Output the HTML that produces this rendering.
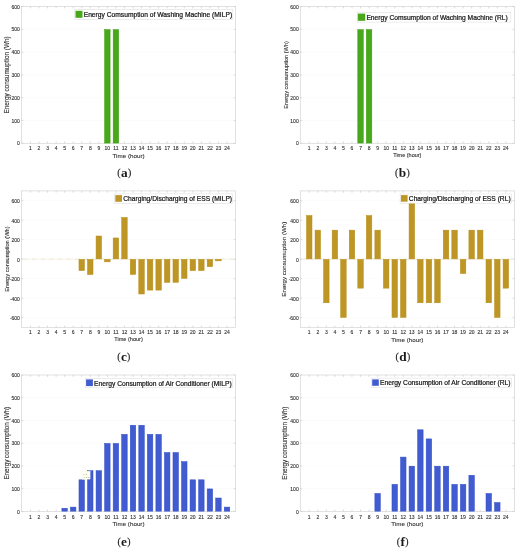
<!DOCTYPE html>
<html><head><meta charset="utf-8"><title>Figure</title>
<style>html,body{margin:0;padding:0;background:#fff}svg{display:block}</style></head>
<body>
<svg width="517" height="550" viewBox="0 0 517 550" font-family="'Liberation Sans', Arial, Helvetica, sans-serif">
<rect width="517" height="550" fill="#fff"/>
<line x1="21.5" x2="235.55" y1="120.52" y2="120.52" stroke="#f8f8f8" stroke-width="0.6"/>
<line x1="21.5" x2="235.55" y1="97.73" y2="97.73" stroke="#f8f8f8" stroke-width="0.6"/>
<line x1="21.5" x2="235.55" y1="74.95" y2="74.95" stroke="#f8f8f8" stroke-width="0.6"/>
<line x1="21.5" x2="235.55" y1="52.17" y2="52.17" stroke="#f8f8f8" stroke-width="0.6"/>
<line x1="21.5" x2="235.55" y1="29.38" y2="29.38" stroke="#f8f8f8" stroke-width="0.6"/>
<rect x="21.5" y="6.6" width="214.05" height="136.7" fill="none" stroke="#d4d4d4" stroke-width="0.7"/>
<path d="M30.45 143.3v-1.8M30.45 6.6v1.8M38.99 143.3v-1.8M38.99 6.6v1.8M47.54 143.3v-1.8M47.54 6.6v1.8M56.08 143.3v-1.8M56.08 6.6v1.8M64.63 143.3v-1.8M64.63 6.6v1.8M73.18 143.3v-1.8M73.18 6.6v1.8M81.72 143.3v-1.8M81.72 6.6v1.8M90.27 143.3v-1.8M90.27 6.6v1.8M98.81 143.3v-1.8M98.81 6.6v1.8M107.36 143.3v-1.8M107.36 6.6v1.8M115.91 143.3v-1.8M115.91 6.6v1.8M124.45 143.3v-1.8M124.45 6.6v1.8M133 143.3v-1.8M133 6.6v1.8M141.54 143.3v-1.8M141.54 6.6v1.8M150.09 143.3v-1.8M150.09 6.6v1.8M158.64 143.3v-1.8M158.64 6.6v1.8M167.18 143.3v-1.8M167.18 6.6v1.8M175.73 143.3v-1.8M175.73 6.6v1.8M184.27 143.3v-1.8M184.27 6.6v1.8M192.82 143.3v-1.8M192.82 6.6v1.8M201.37 143.3v-1.8M201.37 6.6v1.8M209.91 143.3v-1.8M209.91 6.6v1.8M218.46 143.3v-1.8M218.46 6.6v1.8M227 143.3v-1.8M227 6.6v1.8M21.5 143.3h1.8M235.55 143.3h-1.8M21.5 120.52h1.8M235.55 120.52h-1.8M21.5 97.73h1.8M235.55 97.73h-1.8M21.5 74.95h1.8M235.55 74.95h-1.8M21.5 52.17h1.8M235.55 52.17h-1.8M21.5 29.38h1.8M235.55 29.38h-1.8M21.5 6.6h1.8M235.55 6.6h-1.8" stroke="#c6c6c6" stroke-width="0.65" fill="none"/>
<rect x="104.61" y="29.63" width="5.49" height="113.42" fill="#48A71B" stroke="#33A005" stroke-width="0.5"/>
<rect x="113.16" y="29.63" width="5.49" height="113.42" fill="#48A71B" stroke="#33A005" stroke-width="0.5"/>
<g font-size="5" fill="#333" stroke="#333" stroke-width="0.12" text-anchor="middle">
<text x="30.45" y="149.9">1</text>
<text x="38.99" y="149.9">2</text>
<text x="47.54" y="149.9">3</text>
<text x="56.08" y="149.9">4</text>
<text x="64.63" y="149.9">5</text>
<text x="73.18" y="149.9">6</text>
<text x="81.72" y="149.9">7</text>
<text x="90.27" y="149.9">8</text>
<text x="98.81" y="149.9">9</text>
<text x="107.36" y="149.9">10</text>
<text x="115.91" y="149.9">11</text>
<text x="124.45" y="149.9">12</text>
<text x="133" y="149.9">13</text>
<text x="141.54" y="149.9">14</text>
<text x="150.09" y="149.9">15</text>
<text x="158.64" y="149.9">16</text>
<text x="167.18" y="149.9">17</text>
<text x="175.73" y="149.9">18</text>
<text x="184.27" y="149.9">19</text>
<text x="192.82" y="149.9">20</text>
<text x="201.37" y="149.9">21</text>
<text x="209.91" y="149.9">22</text>
<text x="218.46" y="149.9">23</text>
<text x="227" y="149.9">24</text>
</g>
<g font-size="5" fill="#333" stroke="#333" stroke-width="0.12" text-anchor="end">
<text x="19.9" y="145.4">0</text>
<text x="19.9" y="122.62">100</text>
<text x="19.9" y="99.83">200</text>
<text x="19.9" y="77.05">300</text>
<text x="19.9" y="54.27">400</text>
<text x="19.9" y="31.48">500</text>
<text x="19.9" y="8.7">600</text>
</g>
<text x="128.53" y="158.1" font-size="6.25" fill="#333" stroke="#333" stroke-width="0.12" text-anchor="middle">Time (hour)</text>
<text transform="translate(9.2 74.95) rotate(-90)" font-size="6.39" fill="#333" stroke="#333" stroke-width="0.12" text-anchor="middle">Energy consumuption (Wh)</text>
<rect x="74.8" y="9.7" width="158" height="9.7" fill="#fff" stroke="#dadada" stroke-width="0.5"/>
<rect x="75.5" y="10.8" width="7" height="7" fill="#48A71B"/>
<text x="83.7" y="16.95" font-size="6.7" fill="#111" stroke="#111" stroke-width="0.2">Energy Comsumption of Washing Machine (MILP)</text>
<text x="124.3" y="176.9" font-family="'Liberation Serif', 'Times New Roman', serif" font-size="9.8" fill="#1a1a1a" stroke="#1a1a1a" stroke-width="0.15" text-anchor="middle"><tspan dy="-0.9">(</tspan><tspan font-weight="bold" font-size="13.3" dy="0.9" dx="0.4" stroke-width="0">a</tspan><tspan dy="-0.9" dx="0.3">)</tspan></text>
<line x1="300.3" x2="514.4" y1="120.52" y2="120.52" stroke="#f8f8f8" stroke-width="0.6"/>
<line x1="300.3" x2="514.4" y1="97.73" y2="97.73" stroke="#f8f8f8" stroke-width="0.6"/>
<line x1="300.3" x2="514.4" y1="74.95" y2="74.95" stroke="#f8f8f8" stroke-width="0.6"/>
<line x1="300.3" x2="514.4" y1="52.17" y2="52.17" stroke="#f8f8f8" stroke-width="0.6"/>
<line x1="300.3" x2="514.4" y1="29.38" y2="29.38" stroke="#f8f8f8" stroke-width="0.6"/>
<rect x="300.3" y="6.6" width="214.1" height="136.7" fill="none" stroke="#d4d4d4" stroke-width="0.7"/>
<path d="M309.25 143.3v-1.8M309.25 6.6v1.8M317.8 143.3v-1.8M317.8 6.6v1.8M326.34 143.3v-1.8M326.34 6.6v1.8M334.89 143.3v-1.8M334.89 6.6v1.8M343.44 143.3v-1.8M343.44 6.6v1.8M351.99 143.3v-1.8M351.99 6.6v1.8M360.54 143.3v-1.8M360.54 6.6v1.8M369.08 143.3v-1.8M369.08 6.6v1.8M377.63 143.3v-1.8M377.63 6.6v1.8M386.18 143.3v-1.8M386.18 6.6v1.8M394.73 143.3v-1.8M394.73 6.6v1.8M403.28 143.3v-1.8M403.28 6.6v1.8M411.82 143.3v-1.8M411.82 6.6v1.8M420.37 143.3v-1.8M420.37 6.6v1.8M428.92 143.3v-1.8M428.92 6.6v1.8M437.47 143.3v-1.8M437.47 6.6v1.8M446.02 143.3v-1.8M446.02 6.6v1.8M454.56 143.3v-1.8M454.56 6.6v1.8M463.11 143.3v-1.8M463.11 6.6v1.8M471.66 143.3v-1.8M471.66 6.6v1.8M480.21 143.3v-1.8M480.21 6.6v1.8M488.76 143.3v-1.8M488.76 6.6v1.8M497.3 143.3v-1.8M497.3 6.6v1.8M505.85 143.3v-1.8M505.85 6.6v1.8M300.3 143.3h1.8M514.4 143.3h-1.8M300.3 120.52h1.8M514.4 120.52h-1.8M300.3 97.73h1.8M514.4 97.73h-1.8M300.3 74.95h1.8M514.4 74.95h-1.8M300.3 52.17h1.8M514.4 52.17h-1.8M300.3 29.38h1.8M514.4 29.38h-1.8M300.3 6.6h1.8M514.4 6.6h-1.8" stroke="#c6c6c6" stroke-width="0.65" fill="none"/>
<rect x="357.79" y="29.63" width="5.49" height="113.42" fill="#48A71B" stroke="#33A005" stroke-width="0.5"/>
<rect x="366.34" y="29.63" width="5.49" height="113.42" fill="#48A71B" stroke="#33A005" stroke-width="0.5"/>
<g font-size="5" fill="#333" stroke="#333" stroke-width="0.12" text-anchor="middle">
<text x="309.25" y="150">1</text>
<text x="317.8" y="150">2</text>
<text x="326.34" y="150">3</text>
<text x="334.89" y="150">4</text>
<text x="343.44" y="150">5</text>
<text x="351.99" y="150">6</text>
<text x="360.54" y="150">7</text>
<text x="369.08" y="150">8</text>
<text x="377.63" y="150">9</text>
<text x="386.18" y="150">10</text>
<text x="394.73" y="150">11</text>
<text x="403.28" y="150">12</text>
<text x="411.82" y="150">13</text>
<text x="420.37" y="150">14</text>
<text x="428.92" y="150">15</text>
<text x="437.47" y="150">16</text>
<text x="446.02" y="150">17</text>
<text x="454.56" y="150">18</text>
<text x="463.11" y="150">19</text>
<text x="471.66" y="150">20</text>
<text x="480.21" y="150">21</text>
<text x="488.76" y="150">22</text>
<text x="497.3" y="150">23</text>
<text x="505.85" y="150">24</text>
</g>
<g font-size="5" fill="#333" stroke="#333" stroke-width="0.12" text-anchor="end">
<text x="298.7" y="145.4">0</text>
<text x="298.7" y="122.62">100</text>
<text x="298.7" y="99.83">200</text>
<text x="298.7" y="77.05">300</text>
<text x="298.7" y="54.27">400</text>
<text x="298.7" y="31.48">500</text>
<text x="298.7" y="8.7">600</text>
</g>
<text x="407.35" y="157.2" font-size="5.5" fill="#333" stroke="#333" stroke-width="0.12" text-anchor="middle">Time (hour)</text>
<text transform="translate(288.4 74.95) rotate(-90)" font-size="5.58" fill="#333" stroke="#333" stroke-width="0.12" text-anchor="middle">Energy consumuption (Wh)</text>
<rect x="357.2" y="12.4" width="153.6" height="9.7" fill="#fff" stroke="#dadada" stroke-width="0.5"/>
<rect x="357.8" y="13.6" width="7.4" height="7.2" fill="#48A71B"/>
<text x="366.4" y="19.65" font-size="6.7" fill="#111" stroke="#111" stroke-width="0.2">Energy Comsumption of Waching Machine (RL)</text>
<text x="402.4" y="176.9" font-family="'Liberation Serif', 'Times New Roman', serif" font-size="9.8" fill="#1a1a1a" stroke="#1a1a1a" stroke-width="0.15" text-anchor="middle"><tspan dy="-0.9">(</tspan><tspan font-weight="bold" font-size="13.3" dy="0.9" dx="0.4" stroke-width="0">b</tspan><tspan dy="-0.9" dx="0.3">)</tspan></text>
<line x1="21.5" x2="235.55" y1="317.65" y2="317.65" stroke="#f8f8f8" stroke-width="0.6"/>
<line x1="21.5" x2="235.55" y1="298.15" y2="298.15" stroke="#f8f8f8" stroke-width="0.6"/>
<line x1="21.5" x2="235.55" y1="278.65" y2="278.65" stroke="#f8f8f8" stroke-width="0.6"/>
<line x1="21.5" x2="235.55" y1="259.15" y2="259.15" stroke="#f8f8f8" stroke-width="0.6"/>
<line x1="21.5" x2="235.55" y1="239.65" y2="239.65" stroke="#f8f8f8" stroke-width="0.6"/>
<line x1="21.5" x2="235.55" y1="220.15" y2="220.15" stroke="#f8f8f8" stroke-width="0.6"/>
<line x1="21.5" x2="235.55" y1="200.65" y2="200.65" stroke="#f8f8f8" stroke-width="0.6"/>
<line x1="21.5" x2="235.55" y1="259.15" y2="259.15" stroke="#f8efd6" stroke-width="0.8"/>
<line x1="23.78" x2="235.55" y1="259.15" y2="259.15" stroke="#e3e3e3" stroke-width="0.8" stroke-dasharray="4 4.56"/>
<rect x="21.5" y="190.9" width="214.05" height="136.5" fill="none" stroke="#d4d4d4" stroke-width="0.7"/>
<path d="M30.45 327.4v-1.8M30.45 190.9v1.8M38.99 327.4v-1.8M38.99 190.9v1.8M47.54 327.4v-1.8M47.54 190.9v1.8M56.08 327.4v-1.8M56.08 190.9v1.8M64.63 327.4v-1.8M64.63 190.9v1.8M73.18 327.4v-1.8M73.18 190.9v1.8M81.72 327.4v-1.8M81.72 190.9v1.8M90.27 327.4v-1.8M90.27 190.9v1.8M98.81 327.4v-1.8M98.81 190.9v1.8M107.36 327.4v-1.8M107.36 190.9v1.8M115.91 327.4v-1.8M115.91 190.9v1.8M124.45 327.4v-1.8M124.45 190.9v1.8M133 327.4v-1.8M133 190.9v1.8M141.54 327.4v-1.8M141.54 190.9v1.8M150.09 327.4v-1.8M150.09 190.9v1.8M158.64 327.4v-1.8M158.64 190.9v1.8M167.18 327.4v-1.8M167.18 190.9v1.8M175.73 327.4v-1.8M175.73 190.9v1.8M184.27 327.4v-1.8M184.27 190.9v1.8M192.82 327.4v-1.8M192.82 190.9v1.8M201.37 327.4v-1.8M201.37 190.9v1.8M209.91 327.4v-1.8M209.91 190.9v1.8M218.46 327.4v-1.8M218.46 190.9v1.8M227 327.4v-1.8M227 190.9v1.8M21.5 317.65h1.8M235.55 317.65h-1.8M21.5 298.15h1.8M235.55 298.15h-1.8M21.5 278.65h1.8M235.55 278.65h-1.8M21.5 259.15h1.8M235.55 259.15h-1.8M21.5 239.65h1.8M235.55 239.65h-1.8M21.5 220.15h1.8M235.55 220.15h-1.8M21.5 200.65h1.8M235.55 200.65h-1.8" stroke="#c6c6c6" stroke-width="0.65" fill="none"/>
<rect x="78.98" y="259.4" width="5.49" height="11.2" fill="#BD9626" stroke="#B78C12" stroke-width="0.5"/>
<rect x="87.52" y="259.4" width="5.49" height="15.1" fill="#BD9626" stroke="#B78C12" stroke-width="0.5"/>
<rect x="96.07" y="236" width="5.49" height="22.9" fill="#BD9626" stroke="#B78C12" stroke-width="0.5"/>
<rect x="104.61" y="259.4" width="5.49" height="2.43" fill="#BD9626" stroke="#B78C12" stroke-width="0.5"/>
<rect x="113.16" y="237.95" width="5.49" height="20.95" fill="#BD9626" stroke="#B78C12" stroke-width="0.5"/>
<rect x="121.71" y="217.47" width="5.49" height="41.42" fill="#BD9626" stroke="#B78C12" stroke-width="0.5"/>
<rect x="130.25" y="259.4" width="5.49" height="15.1" fill="#BD9626" stroke="#B78C12" stroke-width="0.5"/>
<rect x="138.8" y="259.4" width="5.49" height="34.6" fill="#BD9626" stroke="#B78C12" stroke-width="0.5"/>
<rect x="147.34" y="259.4" width="5.49" height="30.7" fill="#BD9626" stroke="#B78C12" stroke-width="0.5"/>
<rect x="155.89" y="259.4" width="5.49" height="30.7" fill="#BD9626" stroke="#B78C12" stroke-width="0.5"/>
<rect x="164.44" y="259.4" width="5.49" height="22.9" fill="#BD9626" stroke="#B78C12" stroke-width="0.5"/>
<rect x="172.98" y="259.4" width="5.49" height="22.9" fill="#BD9626" stroke="#B78C12" stroke-width="0.5"/>
<rect x="181.53" y="259.4" width="5.49" height="19" fill="#BD9626" stroke="#B78C12" stroke-width="0.5"/>
<rect x="190.07" y="259.4" width="5.49" height="11.2" fill="#BD9626" stroke="#B78C12" stroke-width="0.5"/>
<rect x="198.62" y="259.4" width="5.49" height="11.2" fill="#BD9626" stroke="#B78C12" stroke-width="0.5"/>
<rect x="207.17" y="259.4" width="5.49" height="7.3" fill="#BD9626" stroke="#B78C12" stroke-width="0.5"/>
<rect x="215.71" y="259.4" width="5.49" height="1.45" fill="#BD9626" stroke="#B78C12" stroke-width="0.5"/>
<g font-size="5" fill="#333" stroke="#333" stroke-width="0.12" text-anchor="middle">
<text x="30.45" y="334">1</text>
<text x="38.99" y="334">2</text>
<text x="47.54" y="334">3</text>
<text x="56.08" y="334">4</text>
<text x="64.63" y="334">5</text>
<text x="73.18" y="334">6</text>
<text x="81.72" y="334">7</text>
<text x="90.27" y="334">8</text>
<text x="98.81" y="334">9</text>
<text x="107.36" y="334">10</text>
<text x="115.91" y="334">11</text>
<text x="124.45" y="334">12</text>
<text x="133" y="334">13</text>
<text x="141.54" y="334">14</text>
<text x="150.09" y="334">15</text>
<text x="158.64" y="334">16</text>
<text x="167.18" y="334">17</text>
<text x="175.73" y="334">18</text>
<text x="184.27" y="334">19</text>
<text x="192.82" y="334">20</text>
<text x="201.37" y="334">21</text>
<text x="209.91" y="334">22</text>
<text x="218.46" y="334">23</text>
<text x="227" y="334">24</text>
</g>
<g font-size="5" fill="#333" stroke="#333" stroke-width="0.12" text-anchor="end">
<text x="19.9" y="320.35">-600</text>
<text x="19.9" y="300.85">-400</text>
<text x="19.9" y="281.35">-200</text>
<text x="19.9" y="261.85">0</text>
<text x="19.9" y="242.35">200</text>
<text x="19.9" y="222.85">400</text>
<text x="19.9" y="203.35">600</text>
</g>
<text x="128.53" y="341.2" font-size="5.58" fill="#333" stroke="#333" stroke-width="0.12" text-anchor="middle">Time (hour)</text>
<text transform="translate(8.8 259.15) rotate(-90)" font-size="5.66" fill="#333" stroke="#333" stroke-width="0.12" text-anchor="middle">Energy consumption (Wh)</text>
<rect x="114.6" y="193.9" width="118.1" height="9.4" fill="#fff" stroke="#dadada" stroke-width="0.5"/>
<rect x="115.3" y="195.1" width="6.7" height="6.7" fill="#BD9626"/>
<text x="123.2" y="201" font-size="6.7" fill="#111" stroke="#111" stroke-width="0.2">Charging/Discharging of ESS (MILP)</text>
<text x="123.8" y="361" font-family="'Liberation Serif', 'Times New Roman', serif" font-size="9.8" fill="#1a1a1a" stroke="#1a1a1a" stroke-width="0.15" text-anchor="middle"><tspan dy="-0.9">(</tspan><tspan font-weight="bold" font-size="13.3" dy="0.9" dx="0.4" stroke-width="0">c</tspan><tspan dy="-0.9" dx="0.3">)</tspan></text>
<line x1="300.3" x2="514.4" y1="317.65" y2="317.65" stroke="#f8f8f8" stroke-width="0.6"/>
<line x1="300.3" x2="514.4" y1="298.15" y2="298.15" stroke="#f8f8f8" stroke-width="0.6"/>
<line x1="300.3" x2="514.4" y1="278.65" y2="278.65" stroke="#f8f8f8" stroke-width="0.6"/>
<line x1="300.3" x2="514.4" y1="259.15" y2="259.15" stroke="#f8f8f8" stroke-width="0.6"/>
<line x1="300.3" x2="514.4" y1="239.65" y2="239.65" stroke="#f8f8f8" stroke-width="0.6"/>
<line x1="300.3" x2="514.4" y1="220.15" y2="220.15" stroke="#f8f8f8" stroke-width="0.6"/>
<line x1="300.3" x2="514.4" y1="200.65" y2="200.65" stroke="#f8f8f8" stroke-width="0.6"/>
<line x1="300.3" x2="514.4" y1="259.15" y2="259.15" stroke="#f8efd6" stroke-width="0.8"/>
<line x1="302.58" x2="514.4" y1="259.15" y2="259.15" stroke="#e3e3e3" stroke-width="0.8" stroke-dasharray="4 4.56"/>
<rect x="300.3" y="190.9" width="214.1" height="136.5" fill="none" stroke="#d4d4d4" stroke-width="0.7"/>
<path d="M309.25 327.4v-1.8M309.25 190.9v1.8M317.8 327.4v-1.8M317.8 190.9v1.8M326.34 327.4v-1.8M326.34 190.9v1.8M334.89 327.4v-1.8M334.89 190.9v1.8M343.44 327.4v-1.8M343.44 190.9v1.8M351.99 327.4v-1.8M351.99 190.9v1.8M360.54 327.4v-1.8M360.54 190.9v1.8M369.08 327.4v-1.8M369.08 190.9v1.8M377.63 327.4v-1.8M377.63 190.9v1.8M386.18 327.4v-1.8M386.18 190.9v1.8M394.73 327.4v-1.8M394.73 190.9v1.8M403.28 327.4v-1.8M403.28 190.9v1.8M411.82 327.4v-1.8M411.82 190.9v1.8M420.37 327.4v-1.8M420.37 190.9v1.8M428.92 327.4v-1.8M428.92 190.9v1.8M437.47 327.4v-1.8M437.47 190.9v1.8M446.02 327.4v-1.8M446.02 190.9v1.8M454.56 327.4v-1.8M454.56 190.9v1.8M463.11 327.4v-1.8M463.11 190.9v1.8M471.66 327.4v-1.8M471.66 190.9v1.8M480.21 327.4v-1.8M480.21 190.9v1.8M488.76 327.4v-1.8M488.76 190.9v1.8M497.3 327.4v-1.8M497.3 190.9v1.8M505.85 327.4v-1.8M505.85 190.9v1.8M300.3 317.65h1.8M514.4 317.65h-1.8M300.3 298.15h1.8M514.4 298.15h-1.8M300.3 278.65h1.8M514.4 278.65h-1.8M300.3 259.15h1.8M514.4 259.15h-1.8M300.3 239.65h1.8M514.4 239.65h-1.8M300.3 220.15h1.8M514.4 220.15h-1.8M300.3 200.65h1.8M514.4 200.65h-1.8" stroke="#c6c6c6" stroke-width="0.65" fill="none"/>
<rect x="306.5" y="215.53" width="5.49" height="43.37" fill="#BD9626" stroke="#B78C12" stroke-width="0.5"/>
<rect x="315.05" y="230.15" width="5.49" height="28.75" fill="#BD9626" stroke="#B78C12" stroke-width="0.5"/>
<rect x="323.6" y="259.4" width="5.49" height="43.38" fill="#BD9626" stroke="#B78C12" stroke-width="0.5"/>
<rect x="332.14" y="230.15" width="5.49" height="28.75" fill="#BD9626" stroke="#B78C12" stroke-width="0.5"/>
<rect x="340.69" y="259.4" width="5.49" height="58" fill="#BD9626" stroke="#B78C12" stroke-width="0.5"/>
<rect x="349.24" y="230.15" width="5.49" height="28.75" fill="#BD9626" stroke="#B78C12" stroke-width="0.5"/>
<rect x="357.79" y="259.4" width="5.49" height="28.75" fill="#BD9626" stroke="#B78C12" stroke-width="0.5"/>
<rect x="366.34" y="215.53" width="5.49" height="43.37" fill="#BD9626" stroke="#B78C12" stroke-width="0.5"/>
<rect x="374.88" y="230.15" width="5.49" height="28.75" fill="#BD9626" stroke="#B78C12" stroke-width="0.5"/>
<rect x="383.43" y="259.4" width="5.49" height="28.75" fill="#BD9626" stroke="#B78C12" stroke-width="0.5"/>
<rect x="391.98" y="259.4" width="5.49" height="58" fill="#BD9626" stroke="#B78C12" stroke-width="0.5"/>
<rect x="400.53" y="259.4" width="5.49" height="58" fill="#BD9626" stroke="#B78C12" stroke-width="0.5"/>
<rect x="409.08" y="200.9" width="5.49" height="58" fill="#BD9626" stroke="#B78C12" stroke-width="0.5"/>
<rect x="417.62" y="259.4" width="5.49" height="43.38" fill="#BD9626" stroke="#B78C12" stroke-width="0.5"/>
<rect x="426.17" y="259.4" width="5.49" height="43.38" fill="#BD9626" stroke="#B78C12" stroke-width="0.5"/>
<rect x="434.72" y="259.4" width="5.49" height="43.38" fill="#BD9626" stroke="#B78C12" stroke-width="0.5"/>
<rect x="443.27" y="230.15" width="5.49" height="28.75" fill="#BD9626" stroke="#B78C12" stroke-width="0.5"/>
<rect x="451.82" y="230.15" width="5.49" height="28.75" fill="#BD9626" stroke="#B78C12" stroke-width="0.5"/>
<rect x="460.36" y="259.4" width="5.49" height="14.12" fill="#BD9626" stroke="#B78C12" stroke-width="0.5"/>
<rect x="468.91" y="230.15" width="5.49" height="28.75" fill="#BD9626" stroke="#B78C12" stroke-width="0.5"/>
<rect x="477.46" y="230.15" width="5.49" height="28.75" fill="#BD9626" stroke="#B78C12" stroke-width="0.5"/>
<rect x="486.01" y="259.4" width="5.49" height="43.38" fill="#BD9626" stroke="#B78C12" stroke-width="0.5"/>
<rect x="494.56" y="259.4" width="5.49" height="58" fill="#BD9626" stroke="#B78C12" stroke-width="0.5"/>
<rect x="503.1" y="259.4" width="5.49" height="28.75" fill="#BD9626" stroke="#B78C12" stroke-width="0.5"/>
<g font-size="5" fill="#333" stroke="#333" stroke-width="0.12" text-anchor="middle">
<text x="309.25" y="334">1</text>
<text x="317.8" y="334">2</text>
<text x="326.34" y="334">3</text>
<text x="334.89" y="334">4</text>
<text x="343.44" y="334">5</text>
<text x="351.99" y="334">6</text>
<text x="360.54" y="334">7</text>
<text x="369.08" y="334">8</text>
<text x="377.63" y="334">9</text>
<text x="386.18" y="334">10</text>
<text x="394.73" y="334">11</text>
<text x="403.28" y="334">12</text>
<text x="411.82" y="334">13</text>
<text x="420.37" y="334">14</text>
<text x="428.92" y="334">15</text>
<text x="437.47" y="334">16</text>
<text x="446.02" y="334">17</text>
<text x="454.56" y="334">18</text>
<text x="463.11" y="334">19</text>
<text x="471.66" y="334">20</text>
<text x="480.21" y="334">21</text>
<text x="488.76" y="334">22</text>
<text x="497.3" y="334">23</text>
<text x="505.85" y="334">24</text>
</g>
<g font-size="5" fill="#333" stroke="#333" stroke-width="0.12" text-anchor="end">
<text x="298.7" y="320.35">-600</text>
<text x="298.7" y="300.85">-400</text>
<text x="298.7" y="281.35">-200</text>
<text x="298.7" y="261.85">0</text>
<text x="298.7" y="242.35">200</text>
<text x="298.7" y="222.85">400</text>
<text x="298.7" y="203.35">600</text>
</g>
<text x="407.35" y="341.8" font-size="6.24" fill="#333" stroke="#333" stroke-width="0.12" text-anchor="middle">Time (hour)</text>
<text transform="translate(285.6 259.15) rotate(-90)" font-size="6.2" fill="#333" stroke="#333" stroke-width="0.12" text-anchor="middle">Energy consumuption (Wh)</text>
<rect x="400.1" y="194" width="111.3" height="9.2" fill="#fff" stroke="#dadada" stroke-width="0.5"/>
<rect x="400.9" y="195.1" width="6.7" height="6.6" fill="#BD9626"/>
<text x="408.8" y="201" font-size="6.7" fill="#111" stroke="#111" stroke-width="0.2">Charging/Discharging of ESS (RL)</text>
<text x="402.9" y="361.3" font-family="'Liberation Serif', 'Times New Roman', serif" font-size="9.8" fill="#1a1a1a" stroke="#1a1a1a" stroke-width="0.15" text-anchor="middle"><tspan dy="-0.9">(</tspan><tspan font-weight="bold" font-size="13.3" dy="0.9" dx="0.4" stroke-width="0">d</tspan><tspan dy="-0.9" dx="0.3">)</tspan></text>
<line x1="21.5" x2="235.55" y1="488.67" y2="488.67" stroke="#f8f8f8" stroke-width="0.6"/>
<line x1="21.5" x2="235.55" y1="465.93" y2="465.93" stroke="#f8f8f8" stroke-width="0.6"/>
<line x1="21.5" x2="235.55" y1="443.2" y2="443.2" stroke="#f8f8f8" stroke-width="0.6"/>
<line x1="21.5" x2="235.55" y1="420.47" y2="420.47" stroke="#f8f8f8" stroke-width="0.6"/>
<line x1="21.5" x2="235.55" y1="397.73" y2="397.73" stroke="#f8f8f8" stroke-width="0.6"/>
<rect x="21.5" y="375" width="214.05" height="136.4" fill="none" stroke="#d4d4d4" stroke-width="0.7"/>
<path d="M30.45 511.4v-1.8M30.45 375v1.8M38.99 511.4v-1.8M38.99 375v1.8M47.54 511.4v-1.8M47.54 375v1.8M56.08 511.4v-1.8M56.08 375v1.8M64.63 511.4v-1.8M64.63 375v1.8M73.18 511.4v-1.8M73.18 375v1.8M81.72 511.4v-1.8M81.72 375v1.8M90.27 511.4v-1.8M90.27 375v1.8M98.81 511.4v-1.8M98.81 375v1.8M107.36 511.4v-1.8M107.36 375v1.8M115.91 511.4v-1.8M115.91 375v1.8M124.45 511.4v-1.8M124.45 375v1.8M133 511.4v-1.8M133 375v1.8M141.54 511.4v-1.8M141.54 375v1.8M150.09 511.4v-1.8M150.09 375v1.8M158.64 511.4v-1.8M158.64 375v1.8M167.18 511.4v-1.8M167.18 375v1.8M175.73 511.4v-1.8M175.73 375v1.8M184.27 511.4v-1.8M184.27 375v1.8M192.82 511.4v-1.8M192.82 375v1.8M201.37 511.4v-1.8M201.37 375v1.8M209.91 511.4v-1.8M209.91 375v1.8M218.46 511.4v-1.8M218.46 375v1.8M227 511.4v-1.8M227 375v1.8M21.5 511.4h1.8M235.55 511.4h-1.8M21.5 488.67h1.8M235.55 488.67h-1.8M21.5 465.93h1.8M235.55 465.93h-1.8M21.5 443.2h1.8M235.55 443.2h-1.8M21.5 420.47h1.8M235.55 420.47h-1.8M21.5 397.73h1.8M235.55 397.73h-1.8M21.5 375h1.8M235.55 375h-1.8" stroke="#c6c6c6" stroke-width="0.65" fill="none"/>
<rect x="61.88" y="508.24" width="5.49" height="2.91" fill="#405CD0" stroke="#2F4CC9" stroke-width="0.5"/>
<rect x="70.43" y="507.1" width="5.49" height="4.05" fill="#405CD0" stroke="#2F4CC9" stroke-width="0.5"/>
<rect x="78.98" y="479.82" width="5.49" height="31.33" fill="#405CD0" stroke="#2F4CC9" stroke-width="0.5"/>
<rect x="87.52" y="470.73" width="5.49" height="40.42" fill="#405CD0" stroke="#2F4CC9" stroke-width="0.5"/>
<rect x="96.07" y="470.73" width="5.49" height="40.42" fill="#405CD0" stroke="#2F4CC9" stroke-width="0.5"/>
<rect x="104.61" y="443.45" width="5.49" height="67.7" fill="#405CD0" stroke="#2F4CC9" stroke-width="0.5"/>
<rect x="113.16" y="443.45" width="5.49" height="67.7" fill="#405CD0" stroke="#2F4CC9" stroke-width="0.5"/>
<rect x="121.71" y="434.36" width="5.49" height="76.79" fill="#405CD0" stroke="#2F4CC9" stroke-width="0.5"/>
<rect x="130.25" y="425.26" width="5.49" height="85.89" fill="#405CD0" stroke="#2F4CC9" stroke-width="0.5"/>
<rect x="138.8" y="425.26" width="5.49" height="85.89" fill="#405CD0" stroke="#2F4CC9" stroke-width="0.5"/>
<rect x="147.34" y="434.36" width="5.49" height="76.79" fill="#405CD0" stroke="#2F4CC9" stroke-width="0.5"/>
<rect x="155.89" y="434.36" width="5.49" height="76.79" fill="#405CD0" stroke="#2F4CC9" stroke-width="0.5"/>
<rect x="164.44" y="452.54" width="5.49" height="58.61" fill="#405CD0" stroke="#2F4CC9" stroke-width="0.5"/>
<rect x="172.98" y="452.54" width="5.49" height="58.61" fill="#405CD0" stroke="#2F4CC9" stroke-width="0.5"/>
<rect x="181.53" y="461.64" width="5.49" height="49.51" fill="#405CD0" stroke="#2F4CC9" stroke-width="0.5"/>
<rect x="190.07" y="479.82" width="5.49" height="31.33" fill="#405CD0" stroke="#2F4CC9" stroke-width="0.5"/>
<rect x="198.62" y="479.82" width="5.49" height="31.33" fill="#405CD0" stroke="#2F4CC9" stroke-width="0.5"/>
<rect x="207.17" y="488.92" width="5.49" height="22.23" fill="#405CD0" stroke="#2F4CC9" stroke-width="0.5"/>
<rect x="215.71" y="498.01" width="5.49" height="13.14" fill="#405CD0" stroke="#2F4CC9" stroke-width="0.5"/>
<rect x="224.26" y="507.1" width="5.49" height="4.05" fill="#405CD0" stroke="#2F4CC9" stroke-width="0.5"/>
<rect x="82" y="471.1" width="8.3" height="8.2" fill="#fffff0" stroke="#eeeedd" stroke-width="0.3" stroke-dasharray="0.6 0.6"/><text x="83.2" y="474.6" font-size="2.3" fill="#777">X: 7</text><text x="83.2" y="477.9" font-size="2.3" fill="#777">Y: 140</text>
<g font-size="5" fill="#333" stroke="#333" stroke-width="0.12" text-anchor="middle">
<text x="30.45" y="518.6">1</text>
<text x="38.99" y="518.6">2</text>
<text x="47.54" y="518.6">3</text>
<text x="56.08" y="518.6">4</text>
<text x="64.63" y="518.6">5</text>
<text x="73.18" y="518.6">6</text>
<text x="81.72" y="518.6">7</text>
<text x="90.27" y="518.6">8</text>
<text x="98.81" y="518.6">9</text>
<text x="107.36" y="518.6">10</text>
<text x="115.91" y="518.6">11</text>
<text x="124.45" y="518.6">12</text>
<text x="133" y="518.6">13</text>
<text x="141.54" y="518.6">14</text>
<text x="150.09" y="518.6">15</text>
<text x="158.64" y="518.6">16</text>
<text x="167.18" y="518.6">17</text>
<text x="175.73" y="518.6">18</text>
<text x="184.27" y="518.6">19</text>
<text x="192.82" y="518.6">20</text>
<text x="201.37" y="518.6">21</text>
<text x="209.91" y="518.6">22</text>
<text x="218.46" y="518.6">23</text>
<text x="227" y="518.6">24</text>
</g>
<g font-size="5" fill="#333" stroke="#333" stroke-width="0.12" text-anchor="end">
<text x="19.9" y="513.5">0</text>
<text x="19.9" y="490.77">100</text>
<text x="19.9" y="468.03">200</text>
<text x="19.9" y="445.3">300</text>
<text x="19.9" y="422.57">400</text>
<text x="19.9" y="399.83">500</text>
<text x="19.9" y="377.1">600</text>
</g>
<text x="128.53" y="526.4" font-size="6.24" fill="#333" stroke="#333" stroke-width="0.12" text-anchor="middle">Time (hour)</text>
<text transform="translate(9 443.2) rotate(-90)" font-size="6.31" fill="#333" stroke="#333" stroke-width="0.12" text-anchor="middle">Energy consumption (Wh)</text>
<rect x="85.4" y="378.6" width="147.2" height="9.2" fill="#fff" stroke="#dadada" stroke-width="0.5"/>
<rect x="86.1" y="379.4" width="6.8" height="6.7" fill="#405CD0"/>
<text x="94.1" y="385.6" font-size="6.7" fill="#111" stroke="#111" stroke-width="0.2">Energy Consumption of Air Conditioner (MILP)</text>
<text x="124" y="546.3" font-family="'Liberation Serif', 'Times New Roman', serif" font-size="9.8" fill="#1a1a1a" stroke="#1a1a1a" stroke-width="0.15" text-anchor="middle"><tspan dy="-0.9">(</tspan><tspan font-weight="bold" font-size="13.3" dy="0.9" dx="0.4" stroke-width="0">e</tspan><tspan dy="-0.9" dx="0.3">)</tspan></text>
<line x1="300.3" x2="514.4" y1="488.67" y2="488.67" stroke="#f8f8f8" stroke-width="0.6"/>
<line x1="300.3" x2="514.4" y1="465.93" y2="465.93" stroke="#f8f8f8" stroke-width="0.6"/>
<line x1="300.3" x2="514.4" y1="443.2" y2="443.2" stroke="#f8f8f8" stroke-width="0.6"/>
<line x1="300.3" x2="514.4" y1="420.47" y2="420.47" stroke="#f8f8f8" stroke-width="0.6"/>
<line x1="300.3" x2="514.4" y1="397.73" y2="397.73" stroke="#f8f8f8" stroke-width="0.6"/>
<rect x="300.3" y="375" width="214.1" height="136.4" fill="none" stroke="#d4d4d4" stroke-width="0.7"/>
<path d="M309.25 511.4v-1.8M309.25 375v1.8M317.8 511.4v-1.8M317.8 375v1.8M326.34 511.4v-1.8M326.34 375v1.8M334.89 511.4v-1.8M334.89 375v1.8M343.44 511.4v-1.8M343.44 375v1.8M351.99 511.4v-1.8M351.99 375v1.8M360.54 511.4v-1.8M360.54 375v1.8M369.08 511.4v-1.8M369.08 375v1.8M377.63 511.4v-1.8M377.63 375v1.8M386.18 511.4v-1.8M386.18 375v1.8M394.73 511.4v-1.8M394.73 375v1.8M403.28 511.4v-1.8M403.28 375v1.8M411.82 511.4v-1.8M411.82 375v1.8M420.37 511.4v-1.8M420.37 375v1.8M428.92 511.4v-1.8M428.92 375v1.8M437.47 511.4v-1.8M437.47 375v1.8M446.02 511.4v-1.8M446.02 375v1.8M454.56 511.4v-1.8M454.56 375v1.8M463.11 511.4v-1.8M463.11 375v1.8M471.66 511.4v-1.8M471.66 375v1.8M480.21 511.4v-1.8M480.21 375v1.8M488.76 511.4v-1.8M488.76 375v1.8M497.3 511.4v-1.8M497.3 375v1.8M505.85 511.4v-1.8M505.85 375v1.8M300.3 511.4h1.8M514.4 511.4h-1.8M300.3 488.67h1.8M514.4 488.67h-1.8M300.3 465.93h1.8M514.4 465.93h-1.8M300.3 443.2h1.8M514.4 443.2h-1.8M300.3 420.47h1.8M514.4 420.47h-1.8M300.3 397.73h1.8M514.4 397.73h-1.8M300.3 375h1.8M514.4 375h-1.8" stroke="#c6c6c6" stroke-width="0.65" fill="none"/>
<rect x="374.88" y="493.46" width="5.49" height="17.69" fill="#405CD0" stroke="#2F4CC9" stroke-width="0.5"/>
<rect x="391.98" y="484.37" width="5.49" height="26.78" fill="#405CD0" stroke="#2F4CC9" stroke-width="0.5"/>
<rect x="400.53" y="457.09" width="5.49" height="54.06" fill="#405CD0" stroke="#2F4CC9" stroke-width="0.5"/>
<rect x="409.08" y="466.18" width="5.49" height="44.97" fill="#405CD0" stroke="#2F4CC9" stroke-width="0.5"/>
<rect x="417.62" y="429.81" width="5.49" height="81.34" fill="#405CD0" stroke="#2F4CC9" stroke-width="0.5"/>
<rect x="426.17" y="438.9" width="5.49" height="72.25" fill="#405CD0" stroke="#2F4CC9" stroke-width="0.5"/>
<rect x="434.72" y="466.18" width="5.49" height="44.97" fill="#405CD0" stroke="#2F4CC9" stroke-width="0.5"/>
<rect x="443.27" y="466.18" width="5.49" height="44.97" fill="#405CD0" stroke="#2F4CC9" stroke-width="0.5"/>
<rect x="451.82" y="484.37" width="5.49" height="26.78" fill="#405CD0" stroke="#2F4CC9" stroke-width="0.5"/>
<rect x="460.36" y="484.37" width="5.49" height="26.78" fill="#405CD0" stroke="#2F4CC9" stroke-width="0.5"/>
<rect x="468.91" y="475.28" width="5.49" height="35.87" fill="#405CD0" stroke="#2F4CC9" stroke-width="0.5"/>
<rect x="486.01" y="493.46" width="5.49" height="17.69" fill="#405CD0" stroke="#2F4CC9" stroke-width="0.5"/>
<rect x="494.56" y="502.56" width="5.49" height="8.59" fill="#405CD0" stroke="#2F4CC9" stroke-width="0.5"/>
<g font-size="5" fill="#333" stroke="#333" stroke-width="0.12" text-anchor="middle">
<text x="309.25" y="518.6">1</text>
<text x="317.8" y="518.6">2</text>
<text x="326.34" y="518.6">3</text>
<text x="334.89" y="518.6">4</text>
<text x="343.44" y="518.6">5</text>
<text x="351.99" y="518.6">6</text>
<text x="360.54" y="518.6">7</text>
<text x="369.08" y="518.6">8</text>
<text x="377.63" y="518.6">9</text>
<text x="386.18" y="518.6">10</text>
<text x="394.73" y="518.6">11</text>
<text x="403.28" y="518.6">12</text>
<text x="411.82" y="518.6">13</text>
<text x="420.37" y="518.6">14</text>
<text x="428.92" y="518.6">15</text>
<text x="437.47" y="518.6">16</text>
<text x="446.02" y="518.6">17</text>
<text x="454.56" y="518.6">18</text>
<text x="463.11" y="518.6">19</text>
<text x="471.66" y="518.6">20</text>
<text x="480.21" y="518.6">21</text>
<text x="488.76" y="518.6">22</text>
<text x="497.3" y="518.6">23</text>
<text x="505.85" y="518.6">24</text>
</g>
<g font-size="5" fill="#333" stroke="#333" stroke-width="0.12" text-anchor="end">
<text x="298.7" y="513.5">0</text>
<text x="298.7" y="490.77">100</text>
<text x="298.7" y="468.03">200</text>
<text x="298.7" y="445.3">300</text>
<text x="298.7" y="422.57">400</text>
<text x="298.7" y="399.83">500</text>
<text x="298.7" y="377.1">600</text>
</g>
<text x="407.35" y="526.4" font-size="6.24" fill="#333" stroke="#333" stroke-width="0.12" text-anchor="middle">Time (hour)</text>
<text transform="translate(287.3 443.2) rotate(-90)" font-size="6.33" fill="#333" stroke="#333" stroke-width="0.12" text-anchor="middle">Energy consumption (Wh)</text>
<rect x="371.3" y="378.1" width="140.4" height="9.3" fill="#fff" stroke="#dadada" stroke-width="0.5"/>
<rect x="372.2" y="379.4" width="6.6" height="6.4" fill="#405CD0"/>
<text x="380" y="385.15" font-size="6.7" fill="#111" stroke="#111" stroke-width="0.2">Energy Consumption of Air Conditioner (RL)</text>
<text x="402.6" y="546.3" font-family="'Liberation Serif', 'Times New Roman', serif" font-size="9.8" fill="#1a1a1a" stroke="#1a1a1a" stroke-width="0.15" text-anchor="middle"><tspan dy="-0.9">(</tspan><tspan font-weight="bold" font-size="13.3" dy="0.9" dx="0.4" stroke-width="0">f</tspan><tspan dy="-0.9" dx="0.3">)</tspan></text>
</svg>
</body></html>
